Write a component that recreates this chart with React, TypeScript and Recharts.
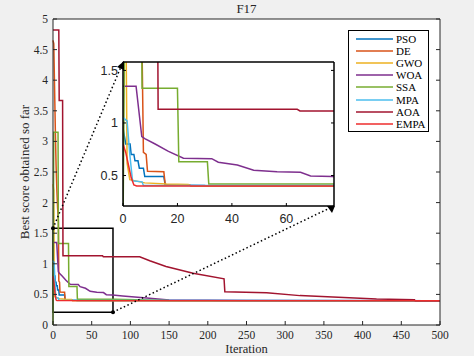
import React from "react";
import {
  LineChart,
  Line,
  XAxis,
  YAxis,
  CartesianGrid,
  ReferenceArea,
  ReferenceDot,
} from "recharts";

// convergence curves, [iteration, best score]
const PSO: [number, number][] = [[0, 0.95], [1, 0.8], [2.6, 0.8], [3, 0.7], [4, 0.7], [4.4, 0.64], [5.5, 0.64], [6, 0.57], [7.5, 0.57], [8, 0.49], [15, 0.49], [15.5, 0.41], [30, 0.405], [31, 0.399], [500, 0.398]];
const DE: [number, number][] = [[0, 4.65], [1, 4.6], [2, 3.9], [3, 3.2], [4, 2.6], [5, 2.2], [6, 1.9], [7, 1.7], [7.5, 0.72], [8.5, 0.7], [9, 0.54], [15, 0.535], [15.5, 0.415], [24.5, 0.41], [25, 0.4], [500, 0.398]];
const GWO: [number, number][] = [[0, 2.3], [1, 2.2], [1.5, 0.62], [2.5, 0.46], [8, 0.43], [16, 0.42], [24, 0.415], [25, 0.4], [500, 0.398]];
const WOA: [number, number][] = [[0, 1.35], [4.8, 1.35], [6.9, 0.87], [8, 0.85], [11.8, 0.8], [16.7, 0.73], [22.2, 0.665], [32.6, 0.66], [35, 0.626], [42, 0.6], [48, 0.55], [56.6, 0.535], [65.2, 0.53], [68.9, 0.496], [77, 0.49], [90, 0.474], [121, 0.44], [150, 0.41], [200, 0.403], [250, 0.399], [500, 0.398]];
const SSA: [number, number][] = [[0, 0], [1, 3.15], [6.5, 3.15], [7, 1.33], [20, 1.33], [20.5, 0.63], [31, 0.63], [31.5, 0.42], [80, 0.42], [120, 0.41], [150, 0.4], [500, 0.398]];
const MPA: [number, number][] = [[0, 1.05], [1.5, 1.02], [2.5, 0.7], [3.5, 0.45], [7, 0.44], [7.5, 0.405], [500, 0.398]];
const AOA: [number, number][] = [[0, 4.82], [7.5, 4.82], [8, 3.67], [12.4, 3.67], [12.9, 1.13], [64, 1.13], [65, 1.115], [112, 1.115], [125, 1.05], [146, 0.955], [181, 0.845], [221, 0.755], [222, 0.545], [276, 0.528], [319, 0.48], [418, 0.425], [467, 0.412], [468, 0.398], [500, 0.398]];
const EMPA: [number, number][] = [[0, 0.8], [1, 0.72], [2, 0.6], [3, 0.48], [4, 0.41], [5, 0.4], [500, 0.398]];

const seriesNames = ["PSO", "DE", "GWO", "WOA", "SSA", "MPA", "AOA", "EMPA"];
const seriesValues = [PSO, DE, GWO, WOA, SSA, MPA, AOA, EMPA];
const seriesColors = ["#0072BD", "#D95319", "#EDB120", "#7E2F8E", "#77AC30", "#4DBEEE", "#A2142F", "#EE2C2C"];

const xTicks = [0, 50, 100, 150, 200, 250, 300, 350, 400, 450, 500];
const yTicks = [0, 0.5, 1, 1.5, 2, 2.5, 3, 3.5, 4, 4.5, 5];
const insetXTicks = [0, 20, 40, 60];
const insetYTicks = [0.5, 1, 1.5];
const zoomX: [number, number] = [0, 77.5];
const zoomY: [number, number] = [0.21, 1.58];

const SERIF = "'Liberation Serif', 'Times New Roman', serif";
const SANS = "'Liberation Sans', Arial, sans-serif";
const AX = "#262626";

// layout of the plot boxes (px)
const W = 474;
const H = 356;
const MAIN = { left: 53, right: 440, top: 19, bottom: 325 };
const INSET = { left: 123, right: 334, top: 62, bottom: 206 };
const mx = (v: number) => MAIN.left + (v / 500) * (MAIN.right - MAIN.left);
const my = (v: number) => MAIN.bottom - (v / 5) * (MAIN.bottom - MAIN.top);

const series = seriesNames.map((name, i) => ({
  name,
  color: seriesColors[i],
  data: seriesValues[i].map(([x, y]) => ({ x, y })),
}));

function LegendBox() {
  return (
    <div
      style={{
        position: "absolute",
        left: 348,
        top: 30,
        width: 81,
        height: 102,
        boxSizing: "border-box",
        border: "1px solid #000",
        background: "#fff",
        padding: "2px 0 0 7px",
        fontFamily: SERIF,
        fontSize: 11,
        color: "#000",
      }}
    >
      {series.map((s) => (
        <div key={s.name} style={{ display: "flex", alignItems: "center", height: 12.1 }}>
          <svg width={37} height={4} style={{ display: "block" }}>
            <line x1={0} x2={37} y1={2} y2={2} stroke={s.color} strokeWidth={1.5} />
          </svg>
          <span style={{ marginLeft: 3, lineHeight: "12px" }}>{s.name}</span>
        </div>
      ))}
    </div>
  );
}

function MainChart() {
  const tickStyle = { fill: "#262626", fontSize: 11.5, fontFamily: SERIF };
  const labelStyle = { fontFamily: SERIF, fontSize: 13, fill: "#262626" };
  return (
    <LineChart width={W} height={H} margin={{ top: 18, right: 33, bottom: 10, left: 0 }} style={{ fontFamily: SERIF }}>
      <CartesianGrid horizontal={false} vertical={false} fill="#fff" />
      <XAxis
        type="number"
        dataKey="x"
        domain={[0, 500]}
        ticks={xTicks}
        height={21}
        tickSize={-4}
        tickMargin={10}
        tick={tickStyle}
        axisLine={{ stroke: AX }}
        tickLine={{ stroke: AX }}
        label={{ value: "Iteration", position: "bottom", offset: -2, style: { ...labelStyle, fontSize: 12.5 } }}
      />
      <XAxis
        xAxisId="top"
        orientation="top"
        type="number"
        domain={[0, 500]}
        allowDataOverflow
        ticks={xTicks}
        height={1}
        tickSize={-4}
        tickFormatter={() => ""}
        axisLine={{ stroke: AX }}
        tickLine={{ stroke: AX }}
        label={{ value: "F17", position: "top", offset: 5, style: labelStyle }}
      />
      <YAxis
        type="number"
        domain={[0, 5]}
        ticks={yTicks}
        width={53}
        tickSize={-4}
        tickMargin={9}
        tick={tickStyle}
        axisLine={{ stroke: AX }}
        tickLine={{ stroke: AX }}
        label={{ value: "Best score obtained so far", angle: -90, position: "center", dx: -2, style: labelStyle }}
      />
      <YAxis
        yAxisId="right"
        orientation="right"
        type="number"
        domain={[0, 5]}
        allowDataOverflow
        ticks={yTicks}
        width={1}
        tickSize={-4}
        tickFormatter={() => ""}
        axisLine={{ stroke: AX }}
        tickLine={{ stroke: AX }}
      />
      {series.map((s) => (
        <Line
          key={s.name}
          name={s.name}
          data={s.data}
          dataKey="y"
          type="linear"
          stroke={s.color}
          strokeWidth={1.5}
          dot={false}
          isAnimationActive={false}
        />
      ))}
      <ReferenceArea
        x1={zoomX[0]}
        x2={zoomX[1]}
        y1={zoomY[0]}
        y2={zoomY[1]}
        fill="none"
        stroke="#000"
        strokeWidth={1.5}
      />
      <ReferenceDot x={zoomX[0]} y={zoomY[1]} r={2} fill="#000" stroke="none" />
      <ReferenceDot x={zoomX[1]} y={zoomY[0]} r={2} fill="#000" stroke="none" />
    </LineChart>
  );
}

function InsetChart() {
  const tickStyle = { fill: "#262626", fontSize: 12.5, fontFamily: SANS };
  const box = { stroke: "#000", strokeWidth: 1.5 };
  return (
    <LineChart width={252} height={175} margin={{ top: 6, right: 5, bottom: 4, left: 0 }} style={{ fontFamily: SANS }}>
      <CartesianGrid horizontal={false} vertical={false} fill="#fff" />
      <XAxis
        type="number"
        dataKey="x"
        domain={zoomX}
        allowDataOverflow
        ticks={insetXTicks}
        height={20}
        tickSize={-3}
        tickMargin={11}
        tick={tickStyle}
        axisLine={box}
        tickLine={{ stroke: "#000" }}
      />
      <XAxis
        xAxisId="top"
        orientation="top"
        type="number"
        domain={zoomX}
        allowDataOverflow
        ticks={insetXTicks}
        height={1}
        tickSize={-3}
        tickFormatter={() => ""}
        axisLine={box}
        tickLine={{ stroke: "#000" }}
      />
      <YAxis
        type="number"
        domain={zoomY}
        allowDataOverflow
        ticks={insetYTicks}
        width={35}
        tickSize={-3}
        tickMargin={8}
        tick={tickStyle}
        axisLine={box}
        tickLine={{ stroke: "#000" }}
      />
      <YAxis
        yAxisId="right"
        orientation="right"
        type="number"
        domain={zoomY}
        allowDataOverflow
        ticks={insetYTicks}
        width={1}
        tickSize={-3}
        tickFormatter={() => ""}
        axisLine={box}
        tickLine={{ stroke: "#000" }}
      />
      {series.map((s) => (
        <Line
          key={s.name}
          name={s.name}
          data={s.data}
          dataKey="y"
          type="linear"
          stroke={s.color}
          strokeWidth={1.5}
          dot={false}
          isAnimationActive={false}
        />
      ))}
    </LineChart>
  );
}

export default function App() {
  return (
    <div style={{ position: "absolute", left: 0, top: 0, width: W, height: H, background: "#f0f0f0", overflow: "hidden", fontFamily: SERIF }}>
      <MainChart />
      <div style={{ position: "absolute", left: INSET.left - 35, top: INSET.top - 7, width: 252, height: 175 }}>
        <InsetChart />
      </div>
      <LegendBox />
      <svg width={W} height={H} style={{ position: "absolute", left: 0, top: 0, pointerEvents: "none" }}>
        <line
          x1={mx(zoomX[0])}
          y1={my(zoomY[1])}
          x2={INSET.left}
          y2={INSET.top}
          stroke="#000"
          strokeWidth={1.5}
          strokeDasharray="1.5 2.5"
        />
        <line
          x1={mx(zoomX[1])}
          y1={my(zoomY[0])}
          x2={INSET.right}
          y2={INSET.bottom}
          stroke="#000"
          strokeWidth={1.5}
          strokeDasharray="1.5 2.5"
        />
        <polygon
          points={`${INSET.left - 6},${INSET.top + 5} ${INSET.left + 1},${INSET.top - 1} ${INSET.left + 1},${INSET.top + 8}`}
          fill="#000"
        />
        <polygon
          points={`${INSET.right - 7},${INSET.bottom} ${INSET.right + 1},${INSET.bottom} ${INSET.right - 2},${INSET.bottom + 7}`}
          fill="#000"
        />
      </svg>
    </div>
  );
}
